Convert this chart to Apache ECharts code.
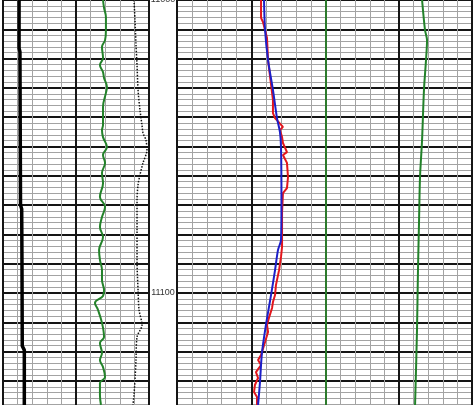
<!DOCTYPE html>
<html>
<head>
<meta charset="utf-8">
<script src="https://cdn.jsdelivr.net/npm/echarts@6/dist/echarts.min.js"></script>
<style>
html, body { margin: 0; padding: 0; background: #fff; }
#main { width: 474px; height: 405px; }
</style>
</head>
<body>
<div id="main"></div>
<script>
// depth window (ft) and labelled depths
const depthMin = 11000
const depthMax = 11140
const depthLabels = [11000, 11100]

// track 1 - thick black curve
const blackDepth = [11000, 11016.4, 11017.7, 11070.0, 11071.3, 11089.4, 11118.1, 11119.5, 11138.2]
const blackValue = [11.0, 11.0, 11.6, 12.0, 12.8, 13.0, 13.2, 14.6, 14.6]

// track 1 - green curve
const green1Depth = [11000.0, 11002.7, 11005.8, 11010.2, 11013.7, 11016.0, 11019.8, 11022.2, 11024.6, 11026.6,
  11029.7, 11031.7, 11036.5, 11042.7, 11044.4, 11046.8, 11050.2, 11052.9, 11055.6, 11059.0,
  11062.5, 11067.2, 11070.6, 11074.1, 11077.5, 11080.9, 11085.3, 11088.7, 11092.2, 11095.6,
  11099.0, 11101.0, 11103.4, 11105.8, 11110.2, 11115.0, 11117.1, 11120.5, 11122.9, 11125.3,
  11128.7, 11130.7, 11134.8, 11138.2]
const green1Value = [68.5, 69.2, 70.5, 70.5, 69.9, 67.8, 68.5, 66.4, 68.5, 69.2,
  71.2, 70.5, 68.5, 68.5, 67.8, 68.5, 71.2, 68.5, 69.9, 67.8,
  68.5, 66.4, 69.9, 67.8, 66.4, 68.5, 65.8, 66.4, 67.8, 67.8,
  69.2, 68.5, 63.0, 65.1, 67.8, 69.2, 66.4, 67.8, 66.4, 68.5,
  69.9, 66.4, 66.4, 67.1]

// track 1 - dotted curve
const dotDepth = [11000.0, 11006.8, 11015.4, 11022.2, 11030.7, 11037.5, 11042.7, 11045.4, 11047.8, 11051.2,
  11055.6, 11059.7, 11063.1, 11068.3, 11078.5, 11088.7, 11099.0, 11105.8, 11110.9, 11115.0,
  11122.9, 11129.7, 11134.8, 11138.2]
const dotValue = [89.7, 90.4, 91.1, 91.8, 92.5, 93.8, 95.2, 95.9, 97.9, 98.6,
  95.9, 93.8, 92.5, 91.8, 91.8, 91.8, 92.5, 93.2, 95.2, 91.8,
  91.1, 90.4, 89.7, 89.0]

// track 2 - blue curve
const blueDepth = [11000.0, 11010.2, 11020.5, 11030.7, 11040.3, 11045.1, 11050.2, 11068.3, 11081.9, 11085.3,
  11092.2, 11100.7, 11110.9, 11120.5, 11130.4, 11138.2]
const blueValue = [58.4, 59.1, 61.1, 64.4, 67.1, 69.1, 69.8, 70.1, 69.8, 67.8,
  65.8, 63.1, 59.7, 57.0, 55.7, 54.4]

// track 2 - red curve
const redDepth = [11000.0, 11006.1, 11007.5, 11010.2, 11013.0, 11020.5, 11034.1, 11038.6, 11040.3, 11043.3,
  11044.4, 11046.8, 11048.8, 11051.9, 11052.9, 11055.6, 11060.4, 11064.2, 11065.9, 11072.7,
  11084.3, 11087.7, 11092.2, 11093.9, 11097.3, 11100.7, 11103.1, 11105.1, 11108.5, 11110.9,
  11113.3, 11116.7, 11121.2, 11122.9, 11124.6, 11127.0, 11129.0, 11131.4, 11133.8, 11135.5,
  11138.2]
const redValue = [56.4, 56.4, 57.7, 59.1, 60.4, 61.1, 64.4, 64.4, 65.8, 71.1,
  69.1, 70.5, 71.1, 73.8, 71.1, 73.8, 74.5, 73.8, 71.1, 70.5,
  70.5, 69.8, 68.5, 67.8, 66.4, 65.8, 64.4, 63.8, 61.7, 60.4,
  61.1, 59.1, 56.4, 54.4, 56.4, 53.0, 54.4, 52.3, 51.7, 53.7,
  53.7]

// track 3 - green curve
const green3Depth = [11000.0, 11010.2, 11013.7, 11020.5, 11030.7, 11047.8, 11060.4, 11076.1, 11092.2, 11113.3, 11138.2]
const green3Value = [65.8, 67.8, 69.2, 68.5, 67.1, 65.8, 64.4, 63.7, 63.0, 62.3, 61.0]

const pairs = (vals, depths) => vals.map((v, i) => [v, depths[i]])

const dark = '#151515'
const light = '#a3a3a3'

// vertical grid of a track: heavy lines at 0/50/100, light every 10
function trackX (gridIndex, edgeColors) {
  return {
    gridIndex: gridIndex,
    type: 'value',
    min: 0,
    max: 100,
    interval: 50,
    axisLine: { show: false },
    axisTick: { show: false },
    axisLabel: { show: false },
    splitLine: { show: true, lineStyle: { color: edgeColors || dark, width: 2 } },
    minorTick: { show: false, splitNumber: 5 },
    minorSplitLine: { show: true, lineStyle: { color: light, width: 1 } }
  }
}

// depth axis of a track: heavy lines every 10 ft, light every 2 ft
function trackY (gridIndex) {
  return {
    gridIndex: gridIndex,
    type: 'value',
    inverse: true,
    min: depthMin,
    max: depthMax,
    interval: 10,
    axisLine: { show: false },
    axisTick: { show: false },
    axisLabel: { show: false },
    splitLine: { show: true, lineStyle: { color: dark, width: 2 } },
    minorTick: { show: false, splitNumber: 5 },
    minorSplitLine: { show: true, lineStyle: { color: light, width: 1 } }
  }
}

const gridH = 410.2
const myChart = echarts.init(document.getElementById('main'))
const option = {
  backgroundColor: '#fff',
  animation: false,
  grid: [
    { left: 3, top: 0, width: 146, height: gridH, outerBoundsMode: 'none' },
    { left: 149, top: 0, width: 28, height: gridH, outerBoundsMode: 'none' },
    { left: 177, top: 0, width: 149, height: gridH, outerBoundsMode: 'none' },
    { left: 326, top: 0, width: 146, height: gridH, outerBoundsMode: 'none' }
  ],
  xAxis: [
    trackX(0),
    { gridIndex: 1, type: 'value', min: 0, max: 1, show: false },
    trackX(2),
    trackX(3, ['#2b7a2b', dark, dark])
  ],
  yAxis: [
    trackY(0),
    {
      gridIndex: 1,
      type: 'value',
      inverse: true,
      min: depthMin,
      max: depthMax,
      interval: 100,
      axisLine: { show: false },
      axisTick: { show: false },
      splitLine: { show: false },
      axisLabel: {
        inside: true,
        align: 'center',
        margin: 14,
        fontSize: 9,
        color: '#333',
        fontFamily: 'Liberation Sans, Arial, sans-serif',
        formatter: (v) => depthLabels.includes(v) ? String(v) : ''
      }
    },
    trackY(2),
    trackY(3)
  ],
  series: [
    {
      type: 'line',
      xAxisIndex: 0,
      yAxisIndex: 0,
      data: pairs(blackValue, blackDepth),
      showSymbol: false,
      lineStyle: { color: '#000', width: 3.5 }
    },
    {
      type: 'line',
      xAxisIndex: 0,
      yAxisIndex: 0,
      data: pairs(green1Value, green1Depth),
      smooth: 0.4,
      showSymbol: false,
      lineStyle: { color: '#23822a', width: 2 }
    },
    {
      type: 'line',
      xAxisIndex: 0,
      yAxisIndex: 0,
      data: pairs(dotValue, dotDepth),
      smooth: 0.3,
      showSymbol: false,
      lineStyle: { color: '#111', width: 1.5, type: 'dotted' }
    },
    {
      type: 'line',
      xAxisIndex: 2,
      yAxisIndex: 2,
      data: pairs(redValue, redDepth),
      showSymbol: false,
      lineStyle: { color: '#e3161c', width: 2 }
    },
    {
      type: 'line',
      xAxisIndex: 2,
      yAxisIndex: 2,
      data: pairs(blueValue, blueDepth),
      smooth: 0.3,
      showSymbol: false,
      lineStyle: { color: '#1c1fc8', width: 2 }
    },
    {
      type: 'line',
      xAxisIndex: 3,
      yAxisIndex: 3,
      data: pairs(green3Value, green3Depth),
      smooth: 0.3,
      showSymbol: false,
      lineStyle: { color: '#23822a', width: 2 }
    }
  ]
}
myChart.setOption(option)
</script>
</body>
</html>
